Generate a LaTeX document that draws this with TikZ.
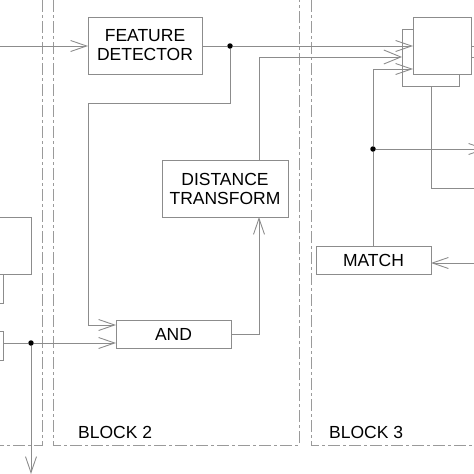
\documentclass[tikz,border=0pt]{standalone}
\usepackage{fontspec}
\setmainfont{Liberation Sans}
\usetikzlibrary{arrows.meta}
\definecolor{ln}{HTML}{8C8C8C}
\definecolor{dl}{HTML}{9A9A9A}
\tikzset{
  wire/.style={draw=ln, line width=0.9pt},
  arr/.style={wire, -{Straight Barb[length=16pt,width=11pt,line width=0.9pt]}},
  bigarr/.style={wire, -{Straight Barb[length=17pt,width=14pt,line width=0.9pt]}},
  blk/.style={draw=ln, line width=0.9pt, fill=white, inner sep=0pt, outer sep=0pt, align=center,
    font=\fontsize{17.5}{19}\selectfont},
  bound/.style={draw=dl, line width=0.9pt, dash pattern=on 12pt off 3pt on 3pt off 3pt},
  dot/.style={circle, fill=black, inner sep=0pt, minimum size=5.5pt},
  lbl/.style={font=\fontsize{17.5}{19}\selectfont, inner sep=0pt, anchor=base west}
}
\begin{document}
\begin{tikzpicture}[x=1pt,y=-1pt]
\useasboundingbox (0,0) rectangle (474,474);
\clip (0,0) rectangle (474,474);
% block boundaries
\draw[bound] (42,0) -- (42,445) -- (-5,445);
\draw[bound] (53,0) -- (53,445) -- (299,445) -- (299,0);
\draw[bound] (311,0) -- (311,445) -- (480,445);
% boxes
\node[blk, minimum width=114pt, minimum height=57pt] (fd) at (145,45.5) {FEATURE\\DETECTOR};
\node[blk, minimum width=126pt, minimum height=57pt] (dt) at (225,188.5) {DISTANCE\\TRANSFORM};
\node[blk, minimum width=115pt, minimum height=28pt] (and) at (173.5,334) {AND};
\node[blk, minimum width=115pt, minimum height=28pt] (match) at (373.5,260) {MATCH};
\node[blk, minimum width=57pt, minimum height=57pt] (back) at (430.5,57.5) {};
\node[blk, minimum width=58pt, minimum height=57pt] (front) at (442,45.5) {};
\node[blk, minimum width=45pt, minimum height=57pt] (b1a) at (8.5,245.5) {};
\node[blk, minimum width=15pt, minimum height=29pt] (b1b) at (-4.5,288.5) {};
\node[blk, minimum width=15pt, minimum height=29pt] (b1c) at (-4.5,345.5) {};
% labels
\node[lbl] (l2) at (78,438) {BLOCK 2};
\node[lbl] (l3) at (329,438) {BLOCK 3};
% junctions
\node[dot] (d1) at (230,46) {};
\node[dot] (d2) at (31,343) {};
\node[dot] (d3) at (373,149) {};
\coordinate (in1) at (-5,46);
\coordinate (out1) at (31,474);
\coordinate (out2) at (486,149);
\coordinate (out3) at (480,188);
\coordinate (in3) at (480,263);
\coordinate (o4) at (480,46);
\coordinate (o5) at (480,57);
% connectors
\draw[arr] (in1) -- (fd.west |- in1);
\draw[wire] (fd.east |- d1) -- (d1);
\draw[arr] (d1) -- (front.west |- d1);
\draw[arr] (d1) -- (230,103) -- (88,103) -- (88,325) -- (and.west |- 0,325);
\draw[wire] (b1c.east |- d2) -- (d2);
\draw[arr] (d2) -- (and.west |- d2);
\draw[arr] (d2) -- (out1);
\draw[arr] (and.east) -- (259,334) -- (dt.south -| 259,0);
\draw[bigarr] (dt.north -| 259,0) -- (259,57) -- (back.west |- 0,57);
\draw[arr] (match.north -| d3) -- (d3) -- (373,69) -- (front.west |- 0,69);
\draw[arr] (d3) -- (out2);
\draw[wire] (back.south -| 431,0) -- (431,188) -- (out3);
\draw[arr] (in3) -- (match.east |- in3);
\draw[wire] (front.east |- o4) -- (o4);
\draw[wire] (front.east |- o5) -- (o5);
\end{tikzpicture}
\end{document}
